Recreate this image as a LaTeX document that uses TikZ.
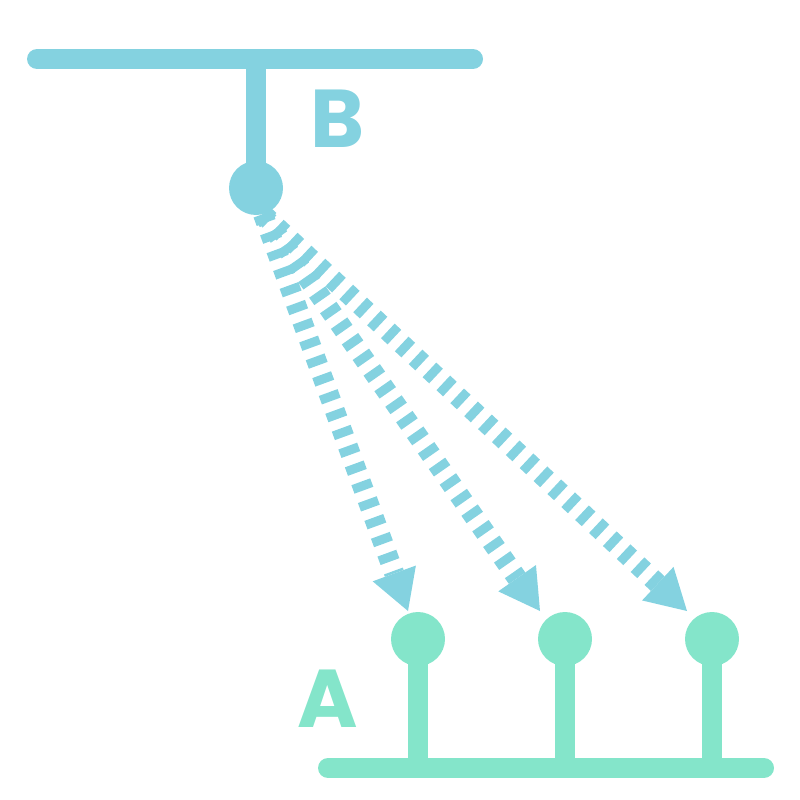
\documentclass[tikz,border=0pt]{standalone}
\usepackage{fontspec}
\setsansfont{Poppins}
\usetikzlibrary{arrows.meta}

\definecolor{Blau}{HTML}{84D2E0}
\definecolor{Gruen}{HTML}{84E5CA}

\begin{document}
\begin{tikzpicture}[x=1pt,y=-1pt,
    font=\sffamily\bfseries,
    >={Triangle[length=40pt,width=46pt,line width'=0pt]} % Pfeilspitzen
    ]
    \useasboundingbox (0,0) rectangle (800,800);

    \tikzset{
        Leiste/.style={draw=#1,line width=20pt,line cap=round}, % Querbalken
        Stiel/.style={draw=#1,line width=20pt},
        Kugel/.style={circle,fill=#1,inner sep=0pt,outer sep=0pt,minimum size=54pt},
        Strahl/.style={draw=Blau,line width=20pt,dash pattern=on 9pt off 10pt,->},
        Marke/.style={text=#1,inner sep=0pt,font=\sffamily\bfseries\fontsize{82}{90}\selectfont}
    }

    % Kugeln
    \node[Kugel=Blau]  (B)  at (256,188) {};
    \node[Kugel=Gruen] (A1) at (418,639) {};
    \node[Kugel=Gruen] (A2) at (565,639) {};
    \node[Kugel=Gruen] (A3) at (712,639) {};

    % Balken
    \coordinate (O1) at (37,59);
    \coordinate (O2) at (473,59);
    \coordinate (U1) at (328,768);
    \coordinate (U2) at (764,768);
    \draw[Leiste=Blau]  (O1) -- (O2);
    \draw[Leiste=Gruen] (U1) -- (U2);

    % Stiele
    \draw[Stiel=Blau]  (B.center)  -- (B |- O1);
    \draw[Stiel=Gruen] (A1.center) -- (A1 |- U1)
                       (A2.center) -- (A2 |- U1)
                       (A3.center) -- (A3 |- U1);

    % Strahlen
    \coordinate (S)  at (B.-75);
    \coordinate (P1) at (408,611);
    \coordinate (P2) at (540,611);
    \coordinate (P3) at (687,611);
    \draw[Strahl] (S) -- (P1);
    \draw[Strahl] (S) -- (P2);
    \draw[Strahl] (S) -- (P3);

    % Beschriftung
    \node[Marke=Blau]  (LB) at (338,118.5) {B};
    \node[Marke=Gruen] (LA) at (327.5,698.5) {A};
\end{tikzpicture}
\end{document}
